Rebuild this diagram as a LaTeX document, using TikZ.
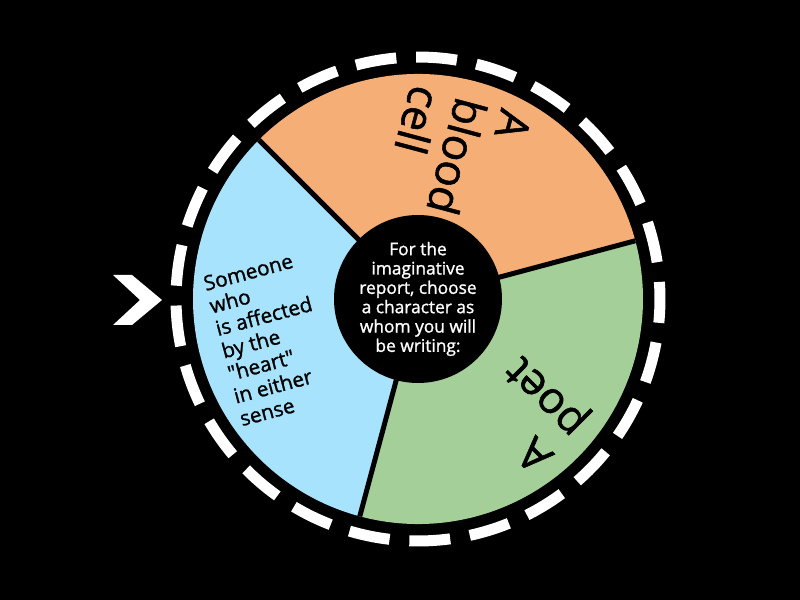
\documentclass[tikz,border=0pt]{standalone}
\usepackage{fontspec}
\setmainfont{Open Sans}
\newfontfamily\medfont{Open Sans}[BoldFont={Open Sans}, BoldFeatures={FakeBold=1.2}]
\usepackage{xcolor}
\usepackage{tikz}
\definecolor{wheelorange}{RGB}{245, 175, 118}
\definecolor{wheelblue}{RGB}{167, 227, 252}
\definecolor{wheelgreen}{RGB}{165, 207, 152}

\begin{document}
\begin{tikzpicture}[x=0.75pt, y=0.75pt,
    slice/.style={line width=3.75pt, line join=round},
    ringdash/.style={draw=white, line width=8.25pt},
    label/.style={anchor=west, align=left, text=black, inner sep=0pt},
    biglabel/.style={label, font=\medfont\bfseries\fontsize{33}{35}\selectfont},
    smalllabel/.style={label, font=\medfont\bfseries\fontsize{15.5}{17.5}\selectfont},
    hubtext/.style={align=center, text=white, inner sep=0pt, font=\medfont\bfseries\fontsize{13}{14.5}\selectfont}
]
    \fill[black] (0,0) rectangle (800,600);
    \useasboundingbox (0,0) rectangle (800,600);

    % pointer
    \fill[white] (113,325) -- (132,325) -- (162,300) -- (132,275) -- (113,275) -- (140,300) -- cycle;

    \begin{scope}[shift={(418,301)}]
        \fill[wheelorange] (0,0) -- (15:225) arc[start angle=15, end angle=135, radius=225] -- cycle;
        \fill[wheelblue]   (0,0) -- (135:225) arc[start angle=135, end angle=255, radius=225] -- cycle;
        \fill[wheelgreen]  (0,0) -- (255:225) arc[start angle=255, end angle=375, radius=225] -- cycle;
        \foreach \a in {15, 135, 255}
            \draw[slice] (0,0) -- (\a:225);

        \foreach \k in {0,...,24}
            \draw[ringdash] ({8.75+14.4*\k}:242) arc[start angle={8.75+14.4*\k}, end angle={18.45+14.4*\k}, radius=242];

        \node[biglabel, rotate=-105] (blood) at (75:207) {A\\blood\\cell};
        \node[biglabel, rotate=135] (poet) at (315:207) {A\\poet};
        \node[smalllabel, rotate=15] (someone) at (195:203) {Someone\\who\\is affected\\by the\\\textquotedbl heart\textquotedbl\\in either\\sense};

        \fill[black] (0,0) circle (84);
        \node[hubtext] (prompt) at (0,0) {For the\\imaginative\\report, choose\\a character as\\whom you will\\be writing:};
    \end{scope}
\end{tikzpicture}
\end{document}
